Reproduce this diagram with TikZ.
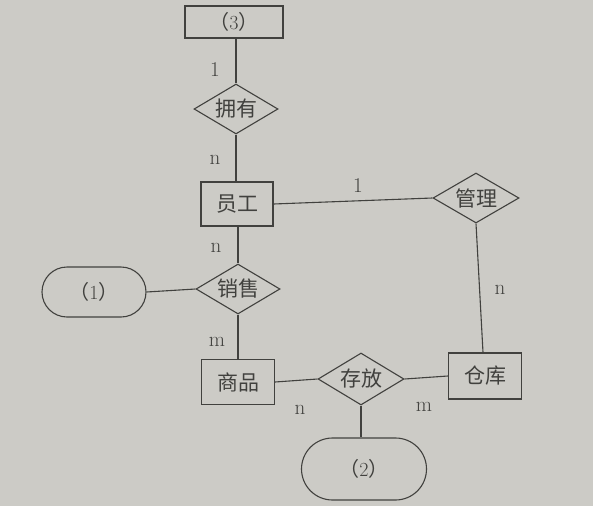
\documentclass[tikz,border=0pt]{standalone}
\usepackage{fontspec}
\newfontfamily\cjk{Noto Sans CJK SC}
\usetikzlibrary{shapes.geometric,shapes.misc}
\definecolor{paper}{RGB}{204,203,198}
\definecolor{ink}{RGB}{65,65,62}
\newcommand{\fwp}[1]{{\cjk （}#1{\cjk ）}}
\tikzset{
  ent/.style={draw=ink, line width=1.1pt, rectangle, minimum width=72pt, minimum height=44pt, inner sep=0pt, font=\cjk\fontsize{21}{21}\selectfont, text=ink},
  rel/.style={draw=ink, line width=1.1pt, diamond, aspect=1.65, minimum width=84pt, minimum height=50pt, inner sep=0pt, font=\cjk\fontsize{21}{21}\selectfont, text=ink},
  attr/.style={draw=ink, line width=1.1pt, rounded rectangle, minimum height=50pt, inner sep=0pt, font=\fontsize{20}{20}\selectfont, text=ink},
  conn/.style={draw=ink, line width=1.1pt},
  card/.style={font=\fontsize{21}{21}\selectfont, text=ink, inner sep=0pt}
}
\begin{document}
\begin{tikzpicture}[x=1pt,y=-1pt]
\fill[paper] (0,0) rectangle (593,506);
\useasboundingbox (0,0) rectangle (593,506);
\node[ent, minimum width=98pt, minimum height=32pt, font=\fontsize{20}{20}\selectfont] (c3) at (234,22) {\fwp{3}};
\node[rel] (yy) at (236,109) {拥有};
\node[ent] (yg) at (237,204) {员工};
\node[rel, minimum width=86pt] (gl) at (476,198) {管理};
\node[ent, minimum width=73pt, minimum height=46pt] (ck) at (485,376) {仓库};
\node[rel] (xs) at (238,289) {销售};
\node[attr, minimum width=104pt] (a1) at (94,292) {\fwp{1}};
\node[ent, minimum width=73pt, minimum height=45pt] (sp) at (238,382) {商品};
\node[rel, minimum width=86pt, minimum height=52pt] (cf) at (361,379) {存放};
\node[attr, minimum width=125pt, minimum height=62pt] (a2) at (364,469) {\fwp{2}};
\draw[conn] (c3.south -| yy.north) -- (yy.north);
\draw[conn] (yy.south) -- (yy.south |- yg.north);
\draw[conn] (yg.east) -- (gl.west);
\draw[conn] (gl.south) -- (ck.north -| 483,0);
\draw[conn] (yg.south -| xs.north) -- (xs.north);
\draw[conn] (xs.south) -- (xs.south |- sp.north);
\draw[conn] (a1.east) -- (xs.west);
\draw[conn] (sp.east) -- (cf.west);
\draw[conn] (cf.east) -- (ck.west);
\draw[conn] (cf.south) -- (cf.south |- a2.north);
\node[card] (l1) at (215,70) {1};
\node[card] (l2) at (215,160) {n};
\node[card] (l3) at (358,186) {1};
\node[card] (l4) at (500,290) {n};
\node[card] (l5) at (216,248) {n};
\node[card] (l6) at (217,342) {m};
\node[card] (l7) at (300,410) {n};
\node[card] (l8) at (424,407) {m};
\end{tikzpicture}
\end{document}
